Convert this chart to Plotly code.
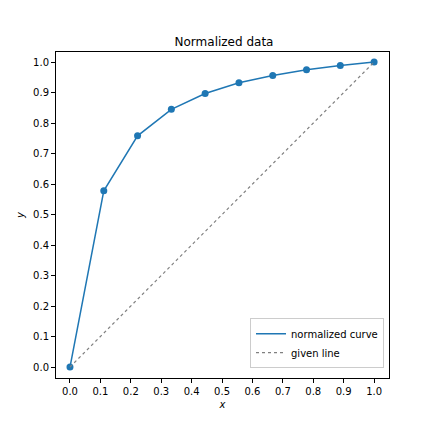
import plotly.graph_objects as go

x_vals = [0.0, 0.1111, 0.2222, 0.3333, 0.4444, 0.5556, 0.6667, 0.7778, 0.8889, 1.0]
y_vals = [0.0, 0.578, 0.758, 0.845, 0.897, 0.932, 0.956, 0.975, 0.989, 1.0]
line_x = [0.0, 1.0]
line_y = [0.0, 1.0]
ticks = [round(i * 0.1, 1) for i in range(11)]

blue = "#1f77b4"
fig = go.Figure()
fig.add_trace(go.Scatter(x=x_vals, y=y_vals, mode="lines", name="normalized curve",
                         line=dict(color=blue, width=1.5)))
fig.add_trace(go.Scatter(x=x_vals, y=y_vals, mode="markers", showlegend=False,
                         marker=dict(color=blue, size=7)))
fig.add_trace(go.Scatter(x=line_x, y=line_y, mode="lines", name="given line",
                         line=dict(color="gray", width=1.2, dash="dot")))

axis_common = dict(showgrid=False, zeroline=False, showline=True, mirror=True, linecolor="black",
                   linewidth=1, ticks="outside", ticklen=4, tickcolor="black",
                   tickvals=ticks, ticktext=[f"{t:.1f}" for t in ticks],
                   tickfont=dict(size=10, color="black"))
fig.update_layout(
    width=432, height=432, plot_bgcolor="white", paper_bgcolor="white",
    margin=dict(l=46, r=51, t=44, b=62),
    font=dict(family="DejaVu Sans", color="black"),
    title=dict(text="Normalized data", x=0.5, xanchor="center", y=0.922, yanchor="middle",
               font=dict(size=12)),
    xaxis=dict(range=[-0.046, 1.049], title=dict(text="<i>x</i>", font=dict(size=10), standoff=4), **axis_common),
    yaxis=dict(range=[-0.036, 1.033], title=dict(text="<i>y</i>", font=dict(size=10), standoff=6), **axis_common),
    legend=dict(x=0.985, y=0.03, xanchor="right", yanchor="bottom", bgcolor="rgba(255,255,255,0.8)",
                bordercolor="#cccccc", borderwidth=1, font=dict(size=10), tracegroupgap=0),
    showlegend=True,
)
fig.write_html("out.html")
